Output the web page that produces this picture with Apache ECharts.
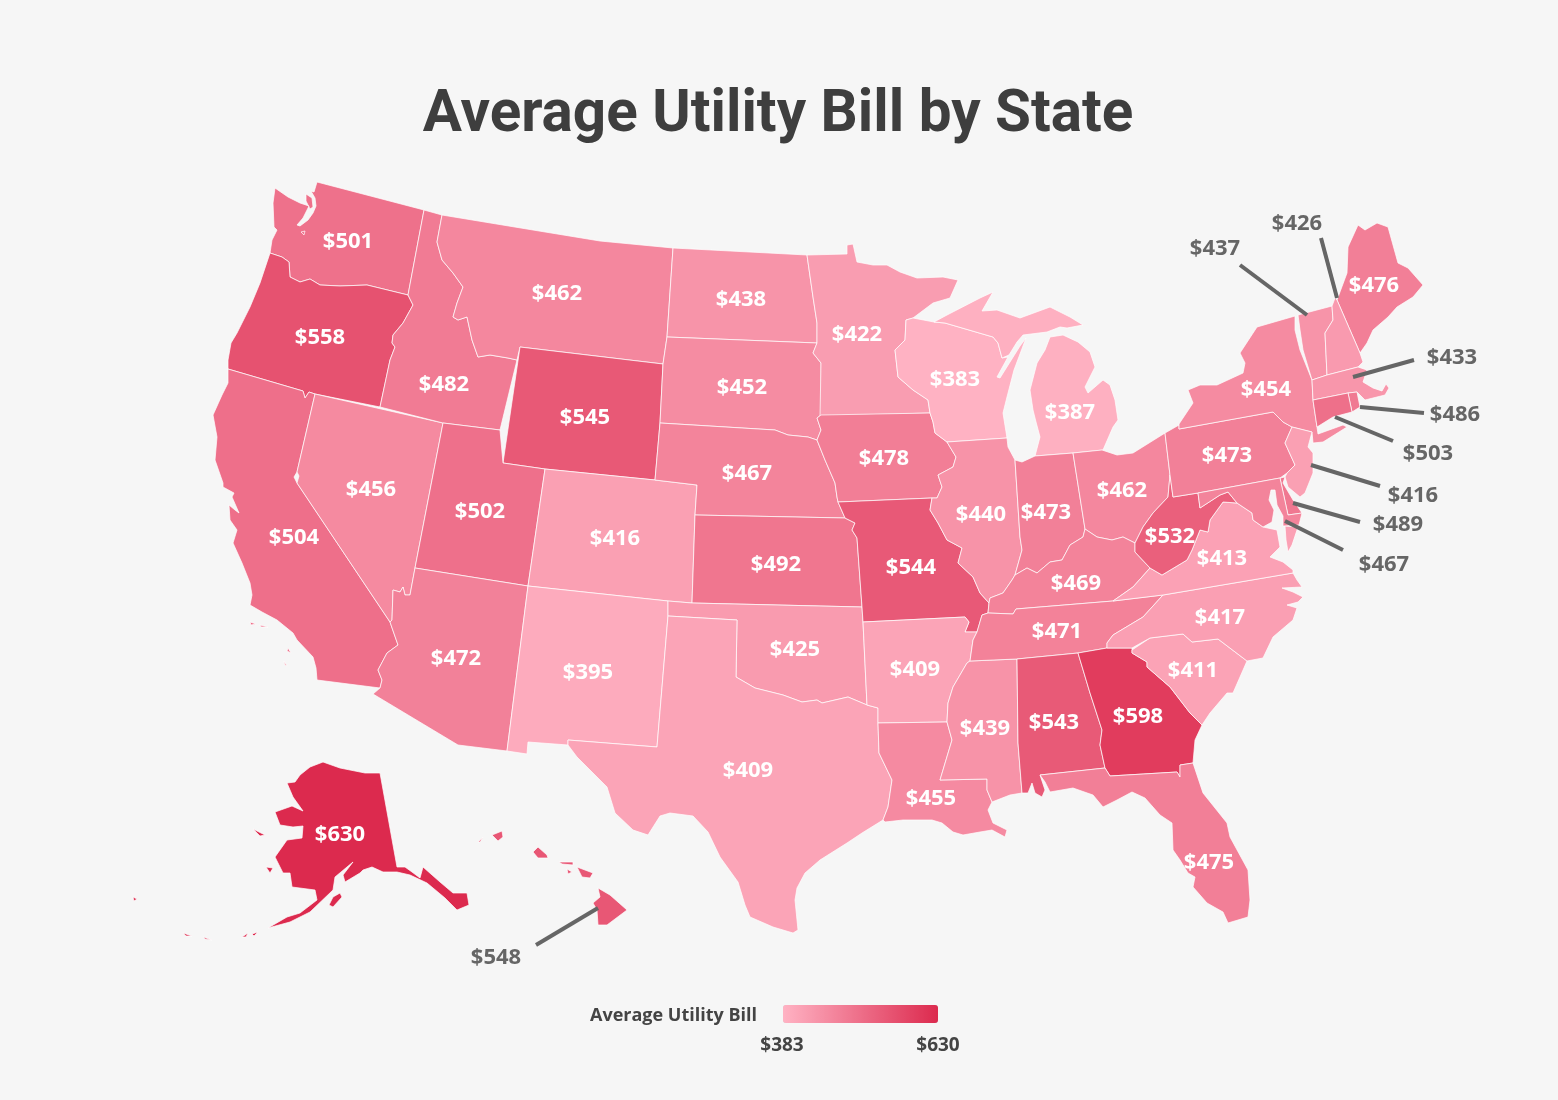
<!DOCTYPE html>
<html><head><meta charset="utf-8">
<style>html,body{margin:0;padding:0;background:#f6f6f6}#c{width:1558px;height:1100px}</style>
<script src="https://cdn.jsdelivr.net/npm/echarts@6/dist/echarts.min.js"></script>
</head><body><div id="c"></div>
<script>
const stateNames=['WA','OR','CA','NV','ID','MT','WY','UT','AZ','CO','NM','ND','SD','NE','KS','OK','TX','MN','IA','MO','AR','LA','WI','IL','MS','MI','IN','OH','KY','TN','AL','GA','FL','SC','NC','VA','WV','PA','NY','ME','AK','VT','NH','MA','RI','CT','NJ','DE','MD','HI'];
const billValues=[501,558,504,456,482,462,545,502,472,416,395,438,452,467,492,425,409,422,478,544,409,455,383,440,439,387,473,462,469,471,543,598,475,411,417,413,532,473,454,476,630,437,426,433,486,503,416,489,467,548];
const calloutStates=['VT','NH','MA','RI','CT','NJ','DE','MD','HI'];
const legendTitle='Average Utility Bill';
const legendMin=383, legendMax=630;

// Outline geometry, one list of rings per state.
const stateShapes={
WA:[[[275,188],[288,197],[300,203],[309,206],[303,218],[297,225],[300,226],[308,220],[313,213],[316,206],[315,198],[311,191],[314,192],[317,182],[424,210],[408,295],[367,285],[340,286],[320,285],[310,279],[300,282],[290,277],[289,262],[282,257],[270,253],[272,240],[277,230],[274,227],[273,203]],[[306,194],[312,198],[313,207],[310,209],[306,201]],[[301,232],[305,231],[304,235]]],
OR:[[[270,253],[282,257],[289,262],[290,277],[300,282],[310,279],[320,285],[340,286],[367,285],[408,295],[413,305],[403,323],[393,335],[392,343],[395,347],[390,360],[380,407],[315,394],[309,392],[305,398],[303,391],[228,369],[228,360],[231,343],[237,333],[250,307],[260,283]]],
CA:[[[228,369],[303,391],[305,398],[309,392],[315,394],[297,472],[294,477],[297,483],[390,622],[398,645],[387,653],[378,670],[382,680],[380,688],[317,680],[316,668],[313,657],[297,640],[293,633],[277,620],[262,612],[250,605],[252,595],[250,583],[242,563],[233,543],[237,530],[230,520],[229,505],[235,510],[239,513],[232,497],[234,493],[223,487],[223,483],[215,460],[217,437],[213,415],[222,395],[228,383]],[[250,622],[256,624],[251,625]],[[260,625],[268,627],[261,627]],[[288,648],[291,653],[287,651]],[[284,661],[287,666],[285,665]]],
NV:[[[315,394],[443,423],[415,568],[410,595],[405,595],[403,587],[400,592],[393,590],[392,620],[390,622],[297,483],[299,476],[297,472]]],
ID:[[[424,210],[442,215],[437,242],[442,260],[453,273],[463,287],[457,303],[453,317],[458,320],[467,317],[472,340],[478,357],[490,355],[508,358],[517,360],[500,430],[443,423],[380,407],[390,360],[395,347],[392,343],[393,335],[403,323],[413,305],[408,295]]],
MT:[[[442,215],[533,230],[600,241],[673,248],[667,337],[663,364],[520,347],[517,360],[508,358],[490,355],[478,357],[472,340],[467,317],[458,320],[453,317],[457,303],[463,287],[453,273],[442,260],[437,242]]],
WY:[[[520,347],[663,364],[660,423],[655,480],[545,469],[503,463]]],
UT:[[[443,423],[500,430],[503,463],[545,469],[528,586],[415,568]]],
AZ:[[[415,568],[528,586],[507,751],[458,745],[373,694],[380,688],[382,680],[378,670],[387,653],[398,645],[390,622],[392,620],[393,590],[400,592],[403,587],[405,595],[410,595]]],
CO:[[[545,469],[655,480],[697,485],[695,515],[692,603],[668,601],[528,586]]],
NM:[[[528,586],[668,601],[668,616],[657,747],[568,740],[568,745],[528,742],[527,754],[507,751]]],
ND:[[[673,248],[807,255],[813,297],[817,323],[817,343],[667,337]]],
SD:[[[667,337],[817,343],[813,353],[821,363],[821,415],[817,418],[821,430],[817,440],[808,437],[788,435],[775,430],[660,423],[663,364]]],
NE:[[[660,423],[775,430],[788,435],[808,437],[817,440],[825,460],[835,483],[837,497],[838,502],[845,518],[695,515],[697,485],[655,480]]],
KS:[[[695,515],[845,518],[855,523],[852,530],[857,538],[862,607],[692,603]]],
OK:[[[668,601],[692,603],[862,607],[863,622],[867,705],[848,697],[822,703],[817,700],[802,702],[783,695],[755,688],[736,677],[737,620],[668,616]]],
TX:[[[668,616],[737,620],[736,677],[755,688],[783,695],[802,702],[817,700],[822,703],[848,697],[867,705],[878,708],[878,723],[879,753],[892,780],[888,807],[883,820],[862,833],[847,843],[820,860],[805,873],[797,888],[795,900],[798,930],[793,933],[773,927],[750,917],[745,905],[738,882],[720,857],[708,832],[693,816],[670,813],[660,816],[648,835],[633,830],[615,813],[607,787],[577,757],[568,745],[568,740],[657,747]]],
MN:[[[807,255],[847,254],[847,245],[853,244],[857,262],[873,265],[887,265],[900,272],[917,278],[943,277],[958,280],[950,298],[933,303],[913,318],[906,320],[905,340],[895,350],[898,377],[913,390],[928,400],[930,413],[820,416],[821,363],[813,353],[817,343],[817,323],[813,297]]],
IA:[[[821,415],[930,413],[933,422],[935,433],[947,442],[956,457],[953,467],[938,475],[942,487],[937,498],[932,498],[838,502],[837,497],[835,483],[825,460],[817,440],[821,430],[817,418]]],
MO:[[[838,502],[932,498],[930,510],[938,523],[947,540],[962,548],[958,563],[973,577],[980,593],[989,603],[988,613],[982,615],[977,632],[965,632],[969,622],[965,617],[863,622],[862,607],[857,538],[852,530],[855,523],[845,518]]],
AR:[[[863,622],[965,617],[969,622],[965,632],[977,632],[973,640],[970,661],[967,663],[953,687],[948,703],[947,722],[878,723],[878,708],[867,705]]],
LA:[[[878,723],[947,722],[952,740],[940,780],[987,779],[987,790],[992,802],[988,810],[993,823],[1007,830],[1005,837],[992,830],[980,832],[963,835],[953,832],[942,823],[932,820],[903,820],[885,822],[883,820],[888,807],[892,780],[879,753]]],
WI:[[[906,320],[913,318],[934,322],[945,323],[993,337],[998,343],[1002,358],[1008,357],[997,377],[1000,378],[1020,346],[1026,338],[1014,370],[1007,397],[1003,413],[1007,438],[947,442],[935,433],[933,422],[930,413],[928,400],[913,390],[898,377],[895,350],[905,340]]],
IL:[[[947,442],[1007,438],[1008,447],[1015,460],[1020,537],[1022,550],[1015,575],[1012,580],[1003,593],[990,598],[989,603],[980,593],[973,577],[958,563],[962,548],[947,540],[938,523],[930,510],[932,498],[937,498],[942,487],[938,475],[953,467],[956,457]]],
MS:[[[970,661],[1017,659],[1018,743],[1022,793],[1010,795],[992,802],[987,790],[987,779],[940,780],[952,740],[947,722],[948,703],[953,687],[967,663]]],
MI:[[[1050,337],[1063,335],[1078,342],[1090,352],[1095,367],[1085,387],[1088,393],[1103,380],[1110,385],[1115,400],[1118,420],[1113,427],[1103,450],[1073,453],[1035,456],[1040,437],[1036,422],[1033,410],[1030,390],[1037,363],[1045,350]],[[934,322],[947,315],[980,298],[993,292],[982,311],[997,310],[1020,318],[1050,307],[1070,317],[1083,325],[1067,328],[1060,327],[1047,332],[1023,335],[1017,342],[1009,355],[1002,358],[998,343],[993,337],[945,323]]],
IN:[[[1015,460],[1022,462],[1035,456],[1073,453],[1085,529],[1083,537],[1070,545],[1062,560],[1050,562],[1037,573],[1027,568],[1015,575],[1022,550],[1020,537]]],
OH:[[[1073,453],[1102,450],[1117,455],[1133,453],[1165,433],[1170,475],[1168,497],[1153,513],[1143,527],[1135,543],[1123,537],[1112,540],[1097,537],[1085,529]]],
KY:[[[990,598],[1003,593],[1012,580],[1015,575],[1027,568],[1037,573],[1050,562],[1062,560],[1070,545],[1083,537],[1085,529],[1097,537],[1112,540],[1123,537],[1135,543],[1135,552],[1150,568],[1133,587],[1113,601],[1016,609],[1013,614],[988,613],[989,603]]],
TN:[[[970,661],[973,640],[977,632],[982,615],[988,613],[1013,614],[1016,609],[1113,601],[1163,595],[1143,617],[1113,635],[1107,643],[1107,648],[1078,653],[1017,659]]],
AL:[[[1017,659],[1078,653],[1090,693],[1102,730],[1100,745],[1105,768],[1040,775],[1045,790],[1042,797],[1035,793],[1032,783],[1028,793],[1022,793],[1018,743]]],
GA:[[[1078,653],[1107,648],[1132,648],[1132,653],[1147,662],[1147,667],[1170,687],[1190,713],[1202,725],[1195,740],[1193,763],[1180,765],[1180,777],[1177,772],[1110,776],[1105,768],[1100,745],[1102,730],[1090,693]]],
FL:[[[1040,775],[1105,768],[1110,776],[1177,772],[1180,777],[1180,765],[1193,763],[1203,793],[1215,808],[1227,823],[1230,837],[1248,870],[1250,900],[1248,917],[1228,923],[1223,912],[1207,903],[1193,887],[1195,877],[1188,873],[1180,860],[1173,850],[1172,823],[1160,815],[1145,798],[1132,792],[1117,800],[1103,807],[1093,795],[1073,788],[1050,792],[1045,782]]],
SC:[[[1132,650],[1150,638],[1183,634],[1192,642],[1218,639],[1247,661],[1240,677],[1233,693],[1227,693],[1210,713],[1202,725],[1190,713],[1170,687],[1147,667],[1147,662],[1132,653]]],
NC:[[[1293,573],[1240,582],[1163,595],[1143,617],[1113,635],[1107,643],[1107,648],[1132,648],[1150,638],[1183,634],[1192,642],[1218,639],[1247,661],[1263,658],[1273,637],[1293,620],[1297,608],[1287,605],[1298,602],[1303,597],[1293,592],[1282,588],[1302,587],[1297,580]]],
VA:[[[1113,601],[1133,587],[1150,568],[1162,575],[1167,572],[1187,560],[1192,550],[1200,530],[1208,532],[1210,520],[1223,502],[1237,503],[1252,513],[1253,520],[1263,527],[1277,530],[1280,547],[1270,557],[1283,562],[1293,570],[1293,573],[1240,582],[1163,595]],[[1285,526],[1298,527],[1292,545],[1288,552],[1286,540]]],
WV:[[[1170,475],[1173,497],[1198,493],[1200,508],[1220,495],[1228,492],[1237,503],[1223,502],[1210,520],[1208,532],[1200,530],[1192,550],[1187,560],[1167,572],[1162,575],[1150,568],[1135,552],[1135,543],[1143,527],[1153,513],[1168,497]]],
PA:[[[1165,433],[1179,425],[1179,429],[1273,412],[1283,422],[1292,427],[1285,443],[1295,465],[1287,473],[1280,478],[1198,493],[1173,497],[1170,475]]],
NY:[[[1179,429],[1179,424],[1193,403],[1188,390],[1200,385],[1217,385],[1243,373],[1245,363],[1240,353],[1257,327],[1295,316],[1295,330],[1300,350],[1312,380],[1313,400],[1317,427],[1318,434],[1343,425],[1347,427],[1323,442],[1313,443],[1312,432],[1292,427],[1283,422],[1273,412]]],
ME:[[[1337,300],[1347,273],[1348,247],[1358,225],[1365,230],[1377,223],[1388,227],[1398,263],[1408,268],[1423,285],[1413,297],[1397,307],[1388,317],[1373,330],[1367,343],[1360,353]]],
VT:[[[1298,315],[1332,306],[1333,320],[1325,333],[1327,375],[1312,380],[1303,350],[1300,330]]],
NH:[[[1332,306],[1335,298],[1337,300],[1360,353],[1363,362],[1358,367],[1327,375],[1325,333],[1333,320]]],
MA:[[[1312,380],[1327,375],[1358,367],[1367,370],[1363,382],[1373,388],[1382,391],[1386,384],[1389,388],[1385,395],[1373,398],[1365,400],[1357,392],[1348,393],[1313,400]]],
RI:[[[1348,393],[1357,392],[1360,407],[1352,412]]],
CT:[[[1313,400],[1348,393],[1352,412],[1333,417],[1317,427]]],
NJ:[[[1292,427],[1312,432],[1308,447],[1313,453],[1313,473],[1305,493],[1300,497],[1288,487],[1285,477],[1287,473],[1295,465],[1285,443]]],
DE:[[[1280,478],[1285,477],[1283,483],[1293,500],[1302,513],[1288,515]]],
MD:[[[1198,493],[1280,478],[1288,515],[1302,513],[1299,525],[1283,526],[1283,516],[1277,505],[1275,490],[1271,490],[1269,500],[1274,510],[1272,522],[1263,527],[1253,520],[1252,513],[1237,503],[1228,492],[1220,495],[1200,508]]],
AK:[[[380,773],[397,867],[405,867],[412,872],[420,878],[423,867],[440,882],[453,893],[467,893],[469,905],[457,910],[445,898],[427,883],[410,875],[397,872],[383,872],[372,867],[363,870],[360,873],[345,882],[343,875],[353,862],[335,877],[333,890],[310,912],[290,922],[268,928],[287,917],[300,913],[317,900],[315,890],[292,887],[290,873],[283,873],[275,857],[287,840],[302,838],[303,826],[293,827],[280,825],[275,812],[292,806],[303,811],[293,797],[287,783],[295,782],[300,775],[310,767],[323,762],[340,768],[365,773]],[[340,893],[342,897],[333,907],[329,905],[333,897]],[[253,829],[265,835],[260,836]],[[266,867],[273,868],[270,873]],[[183,933],[192,936],[186,936]],[[203,937],[212,940],[205,939]],[[242,937],[248,933],[246,937]],[[252,934],[258,932],[254,936]],[[133,897],[137,899],[134,901]]],
HI:[[[598,888],[610,895],[627,910],[607,925],[598,925],[597,910],[593,903],[600,897]],[[577,867],[585,870],[593,873],[590,878],[582,877]],[[559,862],[573,862],[573,865],[562,864]],[[567,869],[572,872],[568,874]],[[538,847],[547,855],[548,858],[538,858],[533,852]],[[492,835],[502,831],[503,837],[498,841]],[[478,842],[483,837],[480,842]]]
};
const labelAnchors={WA:[348,242],OR:[320,338],CA:[294,538],NV:[371,490],ID:[444,385],MT:[557,294],WY:[585,418],UT:[480,512],AZ:[456,659],CO:[615,539],NM:[588,673],ND:[741,300],SD:[742,388],NE:[747,474],KS:[776,565],OK:[795,650],TX:[748,771],MN:[857,335],IA:[884,459],MO:[911,568],AR:[915,670],LA:[931,799],WI:[955,380],IL:[981,515],MS:[985,729],MI:[1070,413],IN:[1046,513],OH:[1122,491],KY:[1076,584],TN:[1057,632],AL:[1054,723],GA:[1138,717],FL:[1209,863],SC:[1193,671],NC:[1220,618],VA:[1222,559],WV:[1170,537],PA:[1227,456],NY:[1266,390],ME:[1374,286],AK:[340,835],VT:[1215,249],NH:[1297,224],MA:[1452,358],RI:[1455,415],CT:[1428,454],NJ:[1413,496],DE:[1398,525],MD:[1384,565],HI:[496,958]};
const leaderLines=[[[1240,265],[1307,315]],[[1321,238],[1337,298]],[[1414,360],[1353,377]],[[1424,413],[1360,407]],[[1393,441],[1335,417]],[[1380,486],[1311,465]],[[1360,522],[1293,503]],[[1343,550],[1285,521]],[[536,945],[598,908]]];

const flip=p=>[p[0],-p[1]];
const usGeo={type:'FeatureCollection',features:stateNames.map(n=>({type:'Feature',
  properties:{name:n,cp:flip(labelAnchors[n])},
  geometry:{type:'MultiPolygon',coordinates:stateShapes[n].map(r=>[r.map(flip)])}}))};
echarts.registerMap('us',usGeo);

const layout={left:0,top:0,width:1558,height:1100,aspectScale:1,boundingCoords:[[0,0],[1558,-1100]],roam:false};
const chart=echarts.init(document.getElementById('c'),null,{renderer:'canvas'});
chart.setOption({
  animation:false,
  backgroundColor:'#f6f6f6',
  title:{text:'Average Utility Bill by State',left:773,textAlign:'center',top:82,textStyle:{fontFamily:'Roboto',fontWeight:700,fontSize:58.4,color:'#3e3e3e'}},
  visualMap:{type:'continuous',min:legendMin,max:legendMax,orient:'horizontal',left:778,top:1000,padding:5,itemWidth:18,itemHeight:155,text:['',''],showLabel:false,calculable:false,hoverLink:false,borderRadius:0,seriesIndex:0,inRange:{color:['#ffb2c3','#dc2a4e']},textStyle:{color:'transparent'}},
  geo:Object.assign({map:'us',silent:true,z:1,itemStyle:{areaColor:'transparent',borderWidth:0},label:{show:false},emphasis:{disabled:true}},layout),
  series:[
    Object.assign({type:'map',map:'us',z:2,silent:true,selectedMode:false,
      itemStyle:{borderColor:'#ffffff',borderWidth:0.7},
      emphasis:{disabled:true},
      label:{show:true,fontFamily:'Open Sans',fontWeight:700,fontSize:22,color:'#ffffff',formatter:p=>'$'+p.value},
      data:stateNames.map((n,i)=>({name:n,value:billValues[i],
        label:calloutStates.includes(n)?{color:'#666666'}:undefined}))
    },layout),
    {type:'lines',coordinateSystem:'geo',z:3,silent:true,polyline:false,symbol:'none',
      lineStyle:{color:'#666666',width:4,opacity:1,curveness:0},
      data:leaderLines.map(l=>({coords:l.map(flip)}))}
  ],
  graphic:[
    {type:'text',silent:true,style:{x:757,y:1016,text:legendTitle,align:'right',verticalAlign:'middle',font:'700 18px "Open Sans"',fill:'#444444'}},
    {type:'text',silent:true,style:{x:782,y:1046,text:'$'+legendMin,align:'center',verticalAlign:'middle',font:'700 19px "Open Sans"',fill:'#444444'}},
    {type:'text',silent:true,style:{x:938,y:1046,text:'$'+legendMax,align:'center',verticalAlign:'middle',font:'700 19px "Open Sans"',fill:'#444444'}}
  ]
});
</script></body></html>
